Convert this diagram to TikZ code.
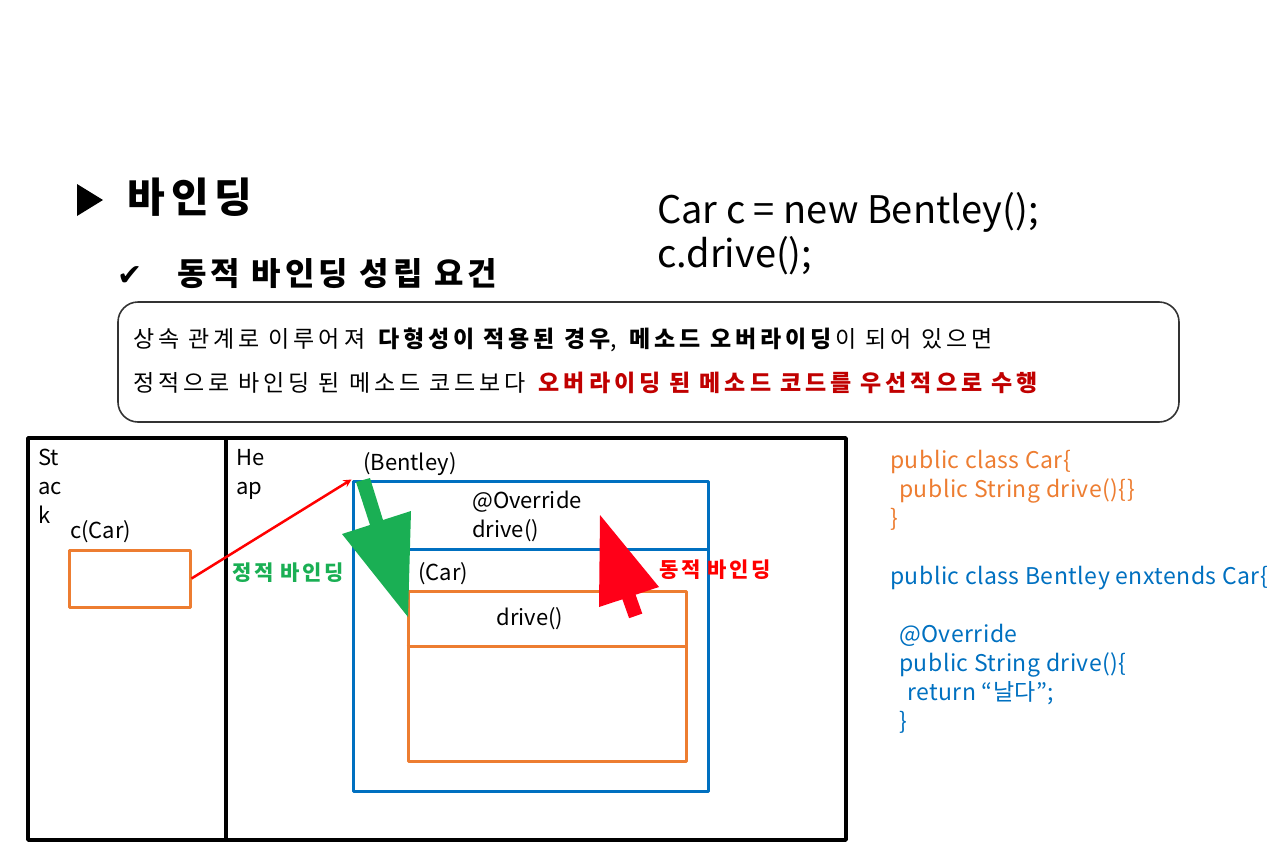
\documentclass[tikz,border=0pt]{standalone}
\usepackage{fontspec}
\setmainfont{Noto Sans CJK KR}
\newfontfamily\symfont{DejaVu Sans}
\definecolor{carorange}{HTML}{ED7D31}
\definecolor{bentblue}{HTML}{0070C0}
\definecolor{staticgreen}{HTML}{1AAF54}
\definecolor{dynred}{HTML}{FF0018}
\definecolor{darkred}{HTML}{C00000}
\tikzset{
  body/.style={inner sep=0pt, font=\fontsize{22}{29}\selectfont},
  rule/.style={inner sep=0pt, anchor=base west, font=\fontsize{23}{29}\selectfont\addfontfeature{LetterSpace=17}},
  label/.style={inner sep=0pt, anchor=base west, font=\fontsize{21}{29}\selectfont\bfseries\addfontfeature{LetterSpace=12}},
  source/.style={inner sep=0pt, anchor=base west, align=left, font=\fontsize{23}{29}\selectfont\addfontfeature{LetterSpace=2}},
  memline/.style={line width=3.5pt},
  blueline/.style={draw=bentblue, line width=3pt},
  orangeline/.style={draw=carorange, line width=3pt}
}
\begin{document}
\begin{tikzpicture}[x=1pt,y=-1pt, line join=round, >=stealth]
  \useasboundingbox (0,0) rectangle (1277,854);
  % heading
  \fill (77,184)--(103,200)--(77,216)--cycle;
  \node[anchor=base west, inner sep=0pt, font=\fontsize{41}{48}\selectfont\bfseries\addfontfeature{LetterSpace=15}] (title) at (127,212) {바인딩};
  \node[anchor=base west, inner sep=0pt, font=\fontsize{30}{34}\selectfont\symfont] (tick) at (117,285) {✔};
  \node[anchor=base west, inner sep=0pt, font=\fontsize{32}{36}\selectfont\bfseries\addfontfeature{LetterSpace=13}] (subtitle) at (177,285) {동적 바인딩 성립 요건};
  \node[anchor=base west, inner sep=0pt, font=\fontsize{38}{44}\selectfont] (code1) at (657,223) {Car c = new Bentley();};
  \node[anchor=base west, inner sep=0pt, font=\fontsize{38}{44}\selectfont] (code2) at (657,267) {c.drive();};
  % rule box
  \draw[line width=1.6pt, draw=black!80, rounded corners=20pt] (118,302) rectangle (1179,422);
  \node[rule] (rule1) at (133,347)
    {상속 관계로 이루어져 \textbf{다형성이 적용된 경우}, \textbf{메소드 오버라이딩}이 되어 있으면};
  \node[rule] (rule2) at (133,391)
    {정적으로 바인딩 된 메소드 코드보다 \textbf{\color{darkred}오버라이딩 된 메소드 코드를 우선적으로 수행}};
  % memory
  \draw[memline] (28,438) rectangle (846,840);
  \draw[memline] (226,438)--(226,840);
  \node[body, anchor=north west, align=left] (stack) at (38,449) {St\\ac\\k};
  \node[body, anchor=north west, align=left] (heap) at (236,449) {He\\ap};
  \node[body, anchor=base west] (cname) at (70,538) {c(Car)};
  \node[orangeline, minimum width=121pt, minimum height=57pt] (cvar) at (129.5,578.5) {};
  \node[body, anchor=base west] (bentname) at (363,470) {(Bentley)};
  \node[blueline, minimum width=355pt, minimum height=310pt] (bentley) at (530.5,636) {};
  \draw[blueline] (353,549)--(708,549);
  \node[body, anchor=base west] (override) at (472,508) {@Override};
  \node[body, anchor=base west] (bdrive) at (472,537) {drive()};
  \node[body, anchor=base west] (carname) at (418,580) {(Car)};
  \node[orangeline, minimum width=278pt, minimum height=170pt] (car) at (547,676) {};
  \draw[orangeline] (car.west|-0,646)--(car.east|-0,646);
  \node[body, anchor=base] (cdrive) at (530,625) {drive()};
  % binding
  \draw[->, red, line width=2.5pt] (cvar.east)--(bentley.north west);
  \fill[staticgreen] (356,482)--(370,478)--(383,520)--(411,511)--(408,617)--(342,534)--(370,525)--cycle;
  \fill[dynred] (600,515)--(659,587)--(635.6,594.7)--(642.3,613.6)--(629.1,618.2)--(622.4,599.3)--(599,607)--cycle;
  \node[label, text=staticgreen] (static) at (232,580) {정적 바인딩};
  \node[label, text=red] (dynamic) at (659,577) {동적 바인딩};
  % source
  \node[source, text=carorange] (carsrc) at (890,526)
    {public class Car\{\\\hspace*{9pt}public String drive()\{\}\\\}};
  \node[source, text=bentblue] (bentsrc) at (890,729)
    {public class Bentley enxtends Car\{\\\mbox{}\\\hspace*{9pt}@Override\\\hspace*{9pt}public String drive()\{\\\hspace*{17pt}return “날다”;\\\hspace*{9pt}\}};
\end{tikzpicture}
\end{document}
